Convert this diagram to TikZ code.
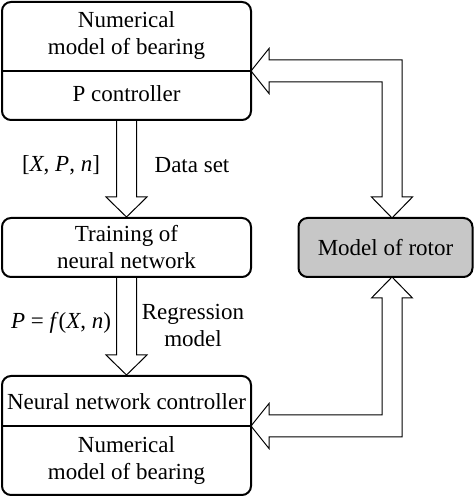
\documentclass[tikz,border=0pt]{standalone}
\usepackage{fontspec}
\setmainfont{Liberation Serif}
\usetikzlibrary{calc}

\begin{document}
\begin{tikzpicture}[x=1pt, y=1pt,
    block/.style={draw, line width=2pt, rounded corners=9pt, minimum width=249pt, inner sep=0pt, align=center},
    txt/.style={align=center, inner sep=0pt},
    fat/.style={draw, line width=1pt, line join=miter},
    every node/.append style={font=\fontsize{23}{27}\selectfont}]

      \useasboundingbox (0,0) rectangle (474,497);

      % blocks
      \begin{scope}
        \node[block, minimum height=118pt] (nmtop) at (126.5,436) {};
        \node[block, minimum height=59pt] (train) at (126.5,249.5) {Training of\\neural network};
        \node[block, minimum height=59pt, minimum width=174pt, fill=black!22] (rotor) at (385.5,249.5) {Model of rotor};
        \node[block, minimum height=119pt] (nmbot) at (126.5,61.5) {};
      \end{scope}

      \begin{scope}[every node/.style={txt, font=\fontsize{23}{27}\selectfont}]
        \node (nmtopA) at (126.5,461.5) {Numerical\\model of bearing};
        \node (pctrl)  at (126.5,403)   {P controller};
        \node (nnctrl) at (126.5,95)    {Neural network controller};
        \node (nmbotA) at (126.5,36)    {Numerical\\model of bearing};
        \node (dataA)  at (61,332)  {[\textit{X}, \textit{P}, \textit{n}]};
        \node (dataB)  at (192,332) {Data set};
        \node (regA)   at (61,174)  {\textit{P} = \textit{f}(\textit{X}, \textit{n})};
        \node (regB)   at (193,171) {Regression\\model};
      \end{scope}

      % dividers
      \coordinate (dtopW) at (2,426);
      \coordinate (dtopE) at (251,426);
      \coordinate (dbotW) at (2,71);
      \coordinate (dbotE) at (251,71);
      \draw[line width=1.6pt] (dtopW) -- (dtopE);
      \draw[line width=1.6pt] (dbotW) -- (dbotE);

      % arrow ends on the rotor
      \coordinate (rtop) at (392,279);
      \coordinate (rbot) at (392,220);

      % straight arrows
      \draw[fat] ($(nmtop.south)+(-10,0)$) -- ($(train.north)+(-10,20)$) -- ++(-10.5,0)
        -- (train.north) -- ++(20.5,20) -- ++(-10.5,0) -- ($(nmtop.south)+(10,0)$);
      \draw[fat] ($(train.south)+(-10,0)$) -- ($(nmbot.north)+(-10,20)$) -- ++(-10.5,0)
        -- (nmbot.north) -- ++(20.5,20) -- ++(-10.5,0) -- ($(train.south)+(10,0)$);

      % bent arrows
      \draw[fat] (dtopE) -- ++(18,22.5) -- ++(0,-11.5) -- ($(rtop)+(10,158)$)
        -- ($(rtop)+(10,21)$) -- ++(10.5,0) -- (rtop) -- ++(-20.5,21) -- ++(10.5,0)
        -- ($(rtop)+(-10,136)$) -- ($(dtopE)+(18,-11)$) -- ++(0,-11.5) -- cycle;
      \draw[fat] (rbot) -- ++(20.5,-21) -- ++(-10.5,0) -- ($(dbotE)+(151,-11)$)
        -- ($(dbotE)+(18,-11)$) -- ++(0,-11.5) -- (dbotE) -- ++(18,22.5) -- ++(0,-11.5)
        -- ($(rbot)+(-10,-138)$) -- ($(rbot)+(-10,-21)$) -- ++(-10.5,0) -- cycle;

    \end{tikzpicture}
\end{document}
